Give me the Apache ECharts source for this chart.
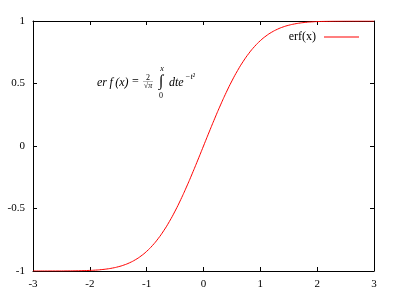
<!DOCTYPE html>
<html><head><meta charset="utf-8">
<script src="https://cdn.jsdelivr.net/npm/echarts@6/dist/echarts.min.js"></script>
<style>html,body{margin:0;padding:0;background:#fff}#c{width:400px;height:299px}</style>
</head><body><div id="c"></div>
<script>
var xValues = [-3.0,-2.8,-2.6,-2.4,-2.2,-2.0,-1.9,-1.8,-1.7,-1.6,-1.5,-1.4,-1.3,-1.2,-1.1,-1.0,-0.9,-0.8,-0.7,-0.6,-0.5,-0.4,-0.3,-0.2,-0.1,0.0,0.1,0.2,0.3,0.4,0.5,0.6,0.7,0.8,0.9,1.0,1.1,1.2,1.3,1.4,1.5,1.6,1.7,1.8,1.9,2.0,2.2,2.4,2.6,2.8,3.0];
var erfValues = [-1.0,-0.9999,-0.9998,-0.9993,-0.9981,-0.9953,-0.9928,-0.9891,-0.9838,-0.9763,-0.9661,-0.9523,-0.934,-0.9103,-0.8802,-0.8427,-0.7969,-0.7421,-0.6778,-0.6039,-0.5205,-0.4284,-0.3286,-0.2227,-0.1125,0.0,0.1125,0.2227,0.3286,0.4284,0.5205,0.6039,0.6778,0.7421,0.7969,0.8427,0.8802,0.9103,0.934,0.9523,0.9661,0.9763,0.9838,0.9891,0.9928,0.9953,0.9981,0.9993,0.9998,0.9999,1.0];
var xTicks = [-3,-2,-1,0,1,2,3];
var yTicks = [-1,-0.5,0,0.5,1];
var seriesName = 'erf(x)';

var data = xValues.map(function(x,i){return [x, erfValues[i]];});
var serif = '"Liberation Serif","DejaVu Serif",serif';
var chart = echarts.init(document.getElementById('c'), null, {renderer:'canvas'});
function axisCommon(extra){
  return Object.assign({
    axisLine:{show:true,onZero:false,lineStyle:{color:'#000',width:1}},
    axisTick:{show:true,inside:true,length:4,lineStyle:{color:'#000'}},
    splitLine:{show:false}
  }, extra);
}
chart.setOption({
  animation:false,
  grid:{left:33,right:26,top:21,bottom:28,containLabel:false},
  legend:{data:[seriesName],right:36,top:26,icon:'rect',itemWidth:35,itemHeight:1,align:'right',itemGap:0,
    textStyle:{fontFamily:serif,fontSize:12,color:'#000',padding:[0,3,0,0]}},
  xAxis:[
    axisCommon({type:'value',min:xTicks[0],max:xTicks[xTicks.length-1],interval:1,position:'bottom',
      axisLabel:{fontFamily:serif,fontSize:11,color:'#000',margin:8}}),
    axisCommon({type:'value',min:xTicks[0],max:xTicks[xTicks.length-1],interval:1,position:'top',
      axisLabel:{show:false}})
  ],
  yAxis:[
    axisCommon({type:'value',min:yTicks[0],max:yTicks[yTicks.length-1],interval:0.5,position:'left',
      axisLabel:{fontFamily:serif,fontSize:11,color:'#000',margin:8}}),
    axisCommon({type:'value',min:yTicks[0],max:yTicks[yTicks.length-1],interval:0.5,position:'right',
      axisLabel:{show:false}})
  ],
  series:[{name:seriesName,type:'line',data:data,smooth:true,showSymbol:false,symbol:'none',
    lineStyle:{color:'#ff0000',width:1},itemStyle:{color:'#ff0000'}}],
  graphic:[
    {type:'text',x:97,y:83,style:{text:'er\u2009f\u2009(x)',font:'italic 12px '+serif,fill:'#000',textVerticalAlign:'middle'}},
    {type:'text',x:132,y:82,style:{text:'=',font:'12px '+serif,fill:'#000',textVerticalAlign:'middle'}},
    {type:'text',x:148,y:78,style:{text:'2',font:'8px '+serif,fill:'#000',textAlign:'center',textVerticalAlign:'middle'}},
    {type:'line',shape:{x1:143,y1:81.5,x2:153,y2:81.5},style:{stroke:'#888',lineWidth:0.6}},
    {type:'text',x:148,y:86,style:{text:'\u221a\u03c0',font:'italic 8px '+serif,fill:'#000',textAlign:'center',textVerticalAlign:'middle'}},
    {type:'text',x:161,y:82,style:{text:'\u222b',font:'16px '+serif,fill:'#000',textAlign:'center',textVerticalAlign:'middle'}},
    {type:'text',x:162,y:69,style:{text:'x',font:'italic 8px '+serif,fill:'#000',textAlign:'center',textVerticalAlign:'middle'}},
    {type:'text',x:161,y:96,style:{text:'0',font:'8px '+serif,fill:'#000',textAlign:'center',textVerticalAlign:'middle'}},
    {type:'text',x:169,y:83,style:{text:'dte',font:'italic 12px '+serif,fill:'#000',textVerticalAlign:'middle'}},
    {type:'text',x:185,y:77,style:{text:'\u2212t\u00b2',font:'italic 8px '+serif,fill:'#000',textVerticalAlign:'middle'}}
  ]
});
</script></body></html>
